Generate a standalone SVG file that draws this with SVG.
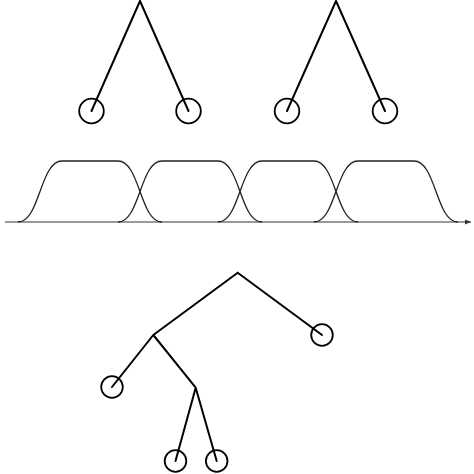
<svg xmlns="http://www.w3.org/2000/svg" width="474" height="474" viewBox="0 0 474 474">
<style>
.edge{stroke:#000;stroke-width:2;fill:none;stroke-linecap:round}
.leaf{stroke:#000;stroke-width:1.8;fill:none}
.curve{stroke:#222;stroke-width:1.3;fill:none}
.axis{stroke:#333;stroke-width:1;fill:none}
</style>
<defs>
<marker id="arr" viewBox="0 0 10 10" refX="10" refY="5" markerWidth="6" markerHeight="6" orient="auto" markerUnits="userSpaceOnUse">
<path d="M0,1 L10,5 L0,9 Z" fill="#333"/>
</marker>
</defs>
<g id="connectors">
<path class="edge" d="M140,1 L91.5,111 M140,1 L188.5,111"/>
<path class="edge" d="M336,1 L287,111 M336,1 L385,111"/>
<path class="edge" d="M237.7,272.7 L322,335 M237.7,272.7 L153.3,335 M153.3,335 L112,387 M153.3,335 L195.7,387.7 M195.7,387.7 L175.5,461 M195.7,387.7 L216.7,461"/>
</g>
<g id="tree1">
<circle id="t1-left" class="leaf" cx="91.5" cy="111" r="12.3"/>
<circle id="t1-right" class="leaf" cx="188.5" cy="111" r="12.3"/>
</g>
<g id="tree2">
<circle id="t2-left" class="leaf" cx="287" cy="111" r="12.3"/>
<circle id="t2-right" class="leaf" cx="385" cy="111" r="12.3"/>
</g>
<g id="tree3">
<circle id="t3-right" class="leaf" cx="322" cy="335" r="10.8"/>
<circle id="t3-left" class="leaf" cx="112" cy="387" r="10.8"/>
<circle id="t3-bl" class="leaf" cx="175.5" cy="461" r="10.8"/>
<circle id="t3-br" class="leaf" cx="216.7" cy="461" r="10.8"/>
</g>
<g id="membership">
<line class="axis" x1="5" y1="222" x2="471" y2="222" marker-end="url(#arr)"/>
<path class="curve" d="M18,222 C40,222 40,161 62,161 L118,161 C140,161 140,222 162,222"/>
<path class="curve" d="M118,222 C140,222 140,161 162,161 L218,161 C240,161 240,222 262,222"/>
<path class="curve" d="M218,222 C240,222 240,161 262,161 L314,161 C336,161 336,222 358,222"/>
<path class="curve" d="M314,222 C336,222 336,161 358,161 L414,161 C436,161 436,222 458,222"/>
</g>
</svg>
